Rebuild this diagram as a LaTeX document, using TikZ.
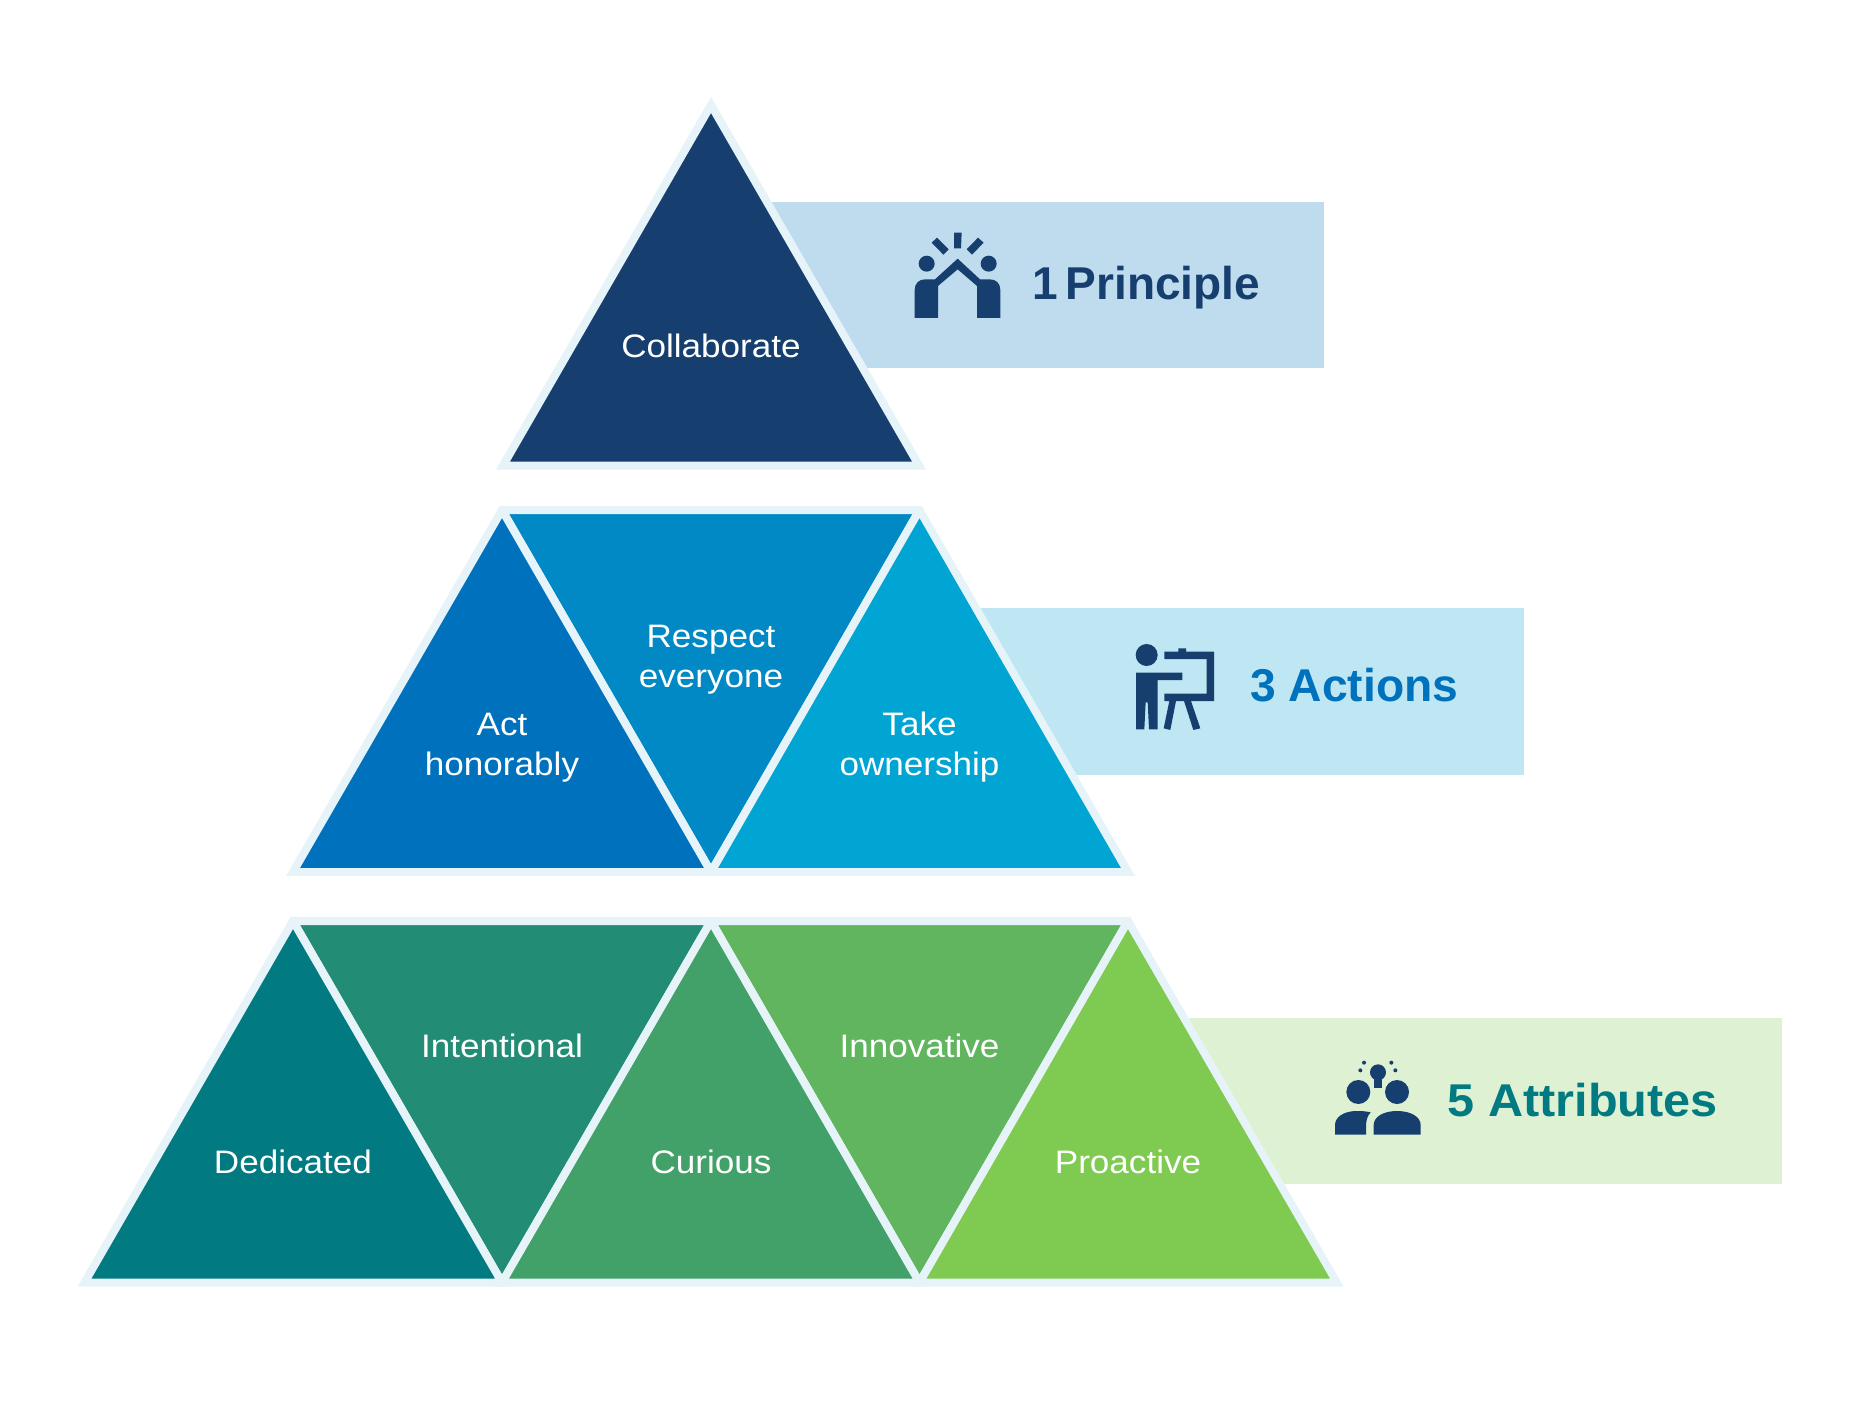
\documentclass[tikz,border=0pt]{standalone}
\usepackage{graphicx}
\usepackage{fontspec}
\setmainfont{Liberation Sans}[FakeStretch=1.08]
\newfontfamily\headfont{Liberation Sans}[FakeStretch=1.0]
\definecolor{edge}{HTML}{E6F3F8}
\definecolor{navy}{HTML}{163F6F}
\definecolor{cA}{HTML}{0071BC}
\definecolor{cB}{HTML}{0089C4}
\definecolor{cC}{HTML}{00A5D3}
\definecolor{dA}{HTML}{017A82}
\definecolor{dB}{HTML}{228C74}
\definecolor{dC}{HTML}{41A168}
\definecolor{dD}{HTML}{60B55E}
\definecolor{dE}{HTML}{7FCA51}
\definecolor{rA}{HTML}{BFDBEE}
\definecolor{rB}{HTML}{BFE7F3}
\definecolor{rC}{HTML}{DFF1D3}
\tikzset{
  tri/.style={draw=edge,line width=8pt,miter limit=10,line join=miter},
  lab/.style={text=white,font=\fontsize{32.5}{40}\selectfont,align=center,anchor=base,inner sep=0pt},
  head/.style={font=\headfont\bfseries\fontsize{46}{50}\selectfont,anchor=base west,inner sep=0pt},
  icon/.style={x=0.3333pt,y=-0.3333pt,fill=navy}
}
\begin{document}
\begin{tikzpicture}[x=1pt,y=-1pt]
\useasboundingbox (0,0) rectangle (1867,1400);
\fill[white] (0,0) rectangle (1867,1400);
% bands
\fill[rA] (700,201.7) rectangle (1324,368);
\fill[rB] (900,608) rectangle (1524,774.5);
\fill[rC] (1100,1018) rectangle (1782,1184.3);
% top
\fill[tri,fill=navy] (503,465.5) -- (919,465.5) -- (711,105) -- cycle;
% middle
\begin{scope}
\clip (499.7,506) -- (921.8,506) -- (1135.3,875.8) -- (286.2,875.8) -- cycle;
\fill[tri,fill=cB] (502,510) -- (919.5,510) -- (711,872) -- cycle;
\fill[tri,fill=cA] (293,872) -- (711,872) -- (502,510) -- cycle;
\fill[tri,fill=cC] (711,872) -- (1128,872) -- (919.5,510) -- cycle;
\end{scope}
% bottom
\begin{scope}
\clip (290.8,916.8) -- (1130.2,916.8) -- (1343.9,1287) -- (77,1287) -- cycle;
\fill[tri,fill=dB] (293,921) -- (711,921) -- (502,1282.5) -- cycle;
\fill[tri,fill=dD] (711,921) -- (1128,921) -- (919.5,1282.5) -- cycle;
\fill[tri,fill=dA] (84.5,1282.5) -- (502,1282.5) -- (293,921) -- cycle;
\fill[tri,fill=dC] (502,1282.5) -- (919.5,1282.5) -- (711,921) -- cycle;
\fill[tri,fill=dE] (919.5,1282.5) -- (1337,1282.5) -- (1128,921) -- cycle;
\end{scope}
% labels
\node[lab] (collab) at (711,357) {Collaborate};
\node[lab] (respect) at (711,647) {Respect};
\node[lab] (everyone) at (711,687) {everyone};
\node[lab] (act) at (502,735) {Act};
\node[lab] (honor) at (502,775) {honorably};
\node[lab] (take) at (919.5,735) {Take};
\node[lab] (owner) at (919.5,775) {ownership};
\node[lab] (intent) at (502,1057) {Intentional};
\node[lab] (innov) at (919.5,1057) {Innovative};
\node[lab] (dedic) at (293,1173.5) {Dedicated};
\node[lab] (curious) at (711,1173.5) {Curious};
\node[lab] (proact) at (1128,1173.5) {Proactive};
\node[head,text=navy] (h1) at (1032,299.3) {\resizebox{228pt}{\height}{1\hspace{8pt}Principle}};
\node[head,text=cA] (h2) at (1250,701.7) {\resizebox{208pt}{\height}{3 Actions}};
\node[head,text=dA] (h3) at (1447.5,1116.7) {\resizebox{270pt}{\height}{5 Attributes}};
% icon 1
\begin{scope}[shift={(880,200)},icon]
\fill (222,98) -- (245,98) -- (243,145) -- (222,145) -- cycle;
\fill (171,113) -- (206,148) -- (190,164) -- (155,128) -- cycle;
\fill (294,113) -- (311,128) -- (276,164) -- (260,148) -- cycle;
\fill (140,191) circle[radius=24];
\fill (326,191) circle[radius=24];
\fill (104,354) -- (174,354) -- (174,258) -- (233,208) -- (291,258) -- (291,354) -- (361,354) -- (361,270)
  .. controls (361,250) and (348,238) .. (330,238) -- (300,238) -- (233,176) -- (165,238) -- (135,238)
  .. controls (117,238) and (104,250) .. (104,270) -- cycle;
\end{scope}
% icon 2
\begin{scope}[shift={(1100,620)},icon]
\fill (140,105) circle[radius=33];
\fill (108,158) -- (247,158) -- (247,180) -- (173,180) -- (173,328) -- (147,328) -- (143,247) -- (137,247) -- (133,328) -- (108,328) -- cycle;
\fill (235,85) -- (258,85) -- (258,95) -- (342,95) -- (342,243) -- (193,243) -- (193,221) -- (320,221) -- (320,117) -- (193,117) -- (193,95) -- (235,95) -- cycle;
\fill (208,243) -- (228,243) -- (211,330) -- (191,325) -- cycle;
\fill (252,243) -- (273,243) -- (301,325) -- (280,330) -- cycle;
\end{scope}
% icon 3
\begin{scope}[shift={(1300,1030)},icon]
\fill (192,98) circle[radius=6];
\fill (274,98) circle[radius=6];
\fill (181,121) circle[radius=6];
\fill (286,121) circle[radius=6];
\fill (234,127) circle[radius=24];
\fill (222,140) rectangle (246,173);
\fill (175,186) circle[radius=36];
\fill (291,186) circle[radius=36];
\fill (105,314) -- (198,314) -- (198,290) .. controls (198,270) and (203,256) .. (212,247)
  .. controls (195,243) and (180,243) .. (170,243) .. controls (130,243) and (105,262) .. (105,285) -- cycle;
\fill (221,314) -- (362,314) -- (362,285) .. controls (362,262) and (335,243) .. (291,243) .. controls (248,243) and (221,262) .. (221,285) -- cycle;
\end{scope}
\end{tikzpicture}
\end{document}
